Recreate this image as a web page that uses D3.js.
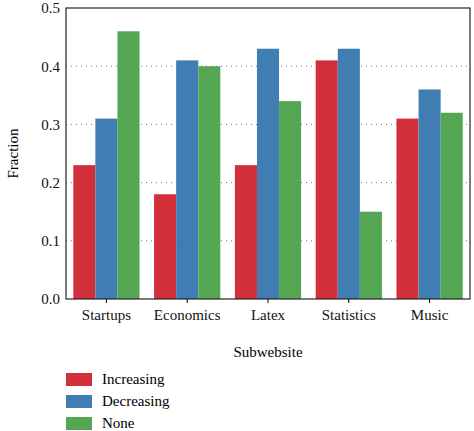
<!DOCTYPE html><html><head><meta charset="utf-8"><script src="https://cdn.jsdelivr.net/npm/d3@7"></script>
<style>body{margin:0;background:#fff}text{font-family:"Liberation Serif","DejaVu Serif",serif}</style></head><body><svg id="c" width="474" height="431"></svg>
<script>
const categories=["Startups","Economics","Latex","Statistics","Music"];
const seriesNames=["Increasing","Decreasing","None"];
const increasing=[0.23,0.18,0.23,0.41,0.31];
const decreasing=[0.31,0.41,0.43,0.43,0.36];
const none=[0.46,0.40,0.34,0.15,0.32];
const yTicks=[0,0.1,0.2,0.3,0.4,0.5];
const colors=["#d1303a","#3f7db3","#55a653"];
const series=[increasing,decreasing,none];
const svg=d3.select("#c");
const L=66,R=470,T=8,B=299;
const x=d3.scaleBand().domain(categories).range([L,R]).paddingInner(0.18).paddingOuter(0.09);
const xs=d3.scaleBand().domain(seriesNames).range([0,x.bandwidth()]);
const y=d3.scaleLinear().domain([0,0.5]).range([B,T]);
svg.append("g").selectAll("line").data(yTicks.slice(1,5)).join("line").attr("x1",L).attr("x2",R).attr("y1",d=>y(d)).attr("y2",d=>y(d)).attr("stroke","#777").attr("stroke-dasharray","1,4");
categories.forEach((c,i)=>{series.forEach((s,j)=>{svg.append("rect").attr("x",x(c)+xs(seriesNames[j])).attr("width",xs.bandwidth()).attr("y",y(s[i])).attr("height",B-y(s[i])).attr("fill",colors[j]);});});
svg.append("rect").attr("x",L).attr("y",T).attr("width",R-L).attr("height",B-T).attr("fill","none").attr("stroke","#222").attr("stroke-width",1.2);
const ya=svg.append("g").attr("transform",`translate(${L},0)`).call(d3.axisLeft(y).tickValues(yTicks).tickFormat(d3.format(".1f")).tickSize(0).tickPadding(6));
ya.select(".domain").remove();ya.selectAll("text").attr("font-size",15).attr("fill","#111");
const xa=svg.append("g").attr("transform",`translate(0,${B})`).call(d3.axisBottom(x).tickSize(4).tickPadding(6));
xa.select(".domain").remove();xa.selectAll("text").attr("font-size",15).attr("fill","#111");
svg.append("text").attr("transform",`translate(18,${(T+B)/2}) rotate(-90)`).attr("text-anchor","middle").attr("font-size",15).text("Fraction");
svg.append("text").attr("x",(L+R)/2).attr("y",357).attr("text-anchor","middle").attr("font-size",15).text("Subwebsite");
seriesNames.forEach((n,j)=>{const yy=373+j*22;svg.append("rect").attr("x",66).attr("y",yy).attr("width",26).attr("height",13).attr("fill",colors[j]);svg.append("text").attr("x",102).attr("y",yy+11).attr("font-size",15).text(n);});
</script></body></html>
